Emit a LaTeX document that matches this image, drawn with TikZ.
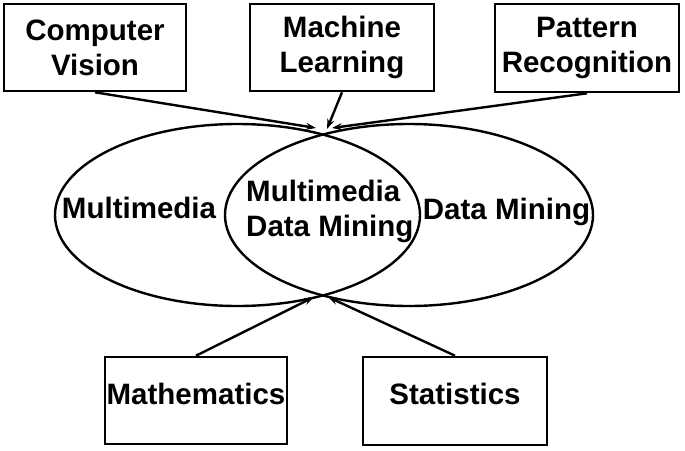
\documentclass[tikz,border=0pt]{standalone}
\usepackage{fontspec}
\setmainfont{Liberation Sans}
\usetikzlibrary{arrows.meta,shapes.geometric}
\tikzset{
  x=1pt,y=-1pt,
  every node/.style={font=\fontsize{29.5}{35}\selectfont\bfseries},
  box/.style={draw,line width=2.6pt,rectangle,inner sep=0pt,align=center},
  oval/.style={draw,line width=2.4pt,ellipse,inner sep=0pt},
  lbl/.style={inner sep=0pt},
  conn/.style={line width=2.4pt,-{Stealth[length=10pt,width=7pt]}}
}
\begin{document}
\begin{tikzpicture}
\useasboundingbox (0,0) rectangle (685,450);
% boxes
\node[box,minimum width=182pt,minimum height=87pt] (cv) at (95,47.5) {Computer\\Vision};
\node[box,minimum width=184pt,minimum height=87pt] (ml) at (342,47.5) {Machine\\Learning};
\node[box,minimum width=184pt,minimum height=88pt] (pr) at (587,48) {Pattern\\Recognition};
\node[box,minimum width=182pt,minimum height=87pt,text depth=14pt] (ma) at (196,400.5) {Mathematics};
\node[box,minimum width=184pt,minimum height=88pt,text depth=14pt] (st) at (455,401) {Statistics};
% ellipses
\node[oval,minimum width=365pt,minimum height=182pt] (mm) at (237.5,215) {};
\node[oval,minimum width=368pt,minimum height=182pt] (dm) at (409,215) {};
% labels
\node[lbl,anchor=base] (mmt) at (139,218) {Multimedia};
\node[lbl,anchor=base] (dmt) at (506.5,219) {Data Mining};
\node[lbl,anchor=west,align=left] (mdm) at (246,211) {Multimedia\\Data Mining};
% tips
\coordinate (tcv) at (316,128);
\coordinate (tml) at (327,129);
\coordinate (tpr) at (332,128);
\coordinate (tma) at (314,297);
\coordinate (tst) at (328,297);
% connectors
\draw[conn] (cv.south) -- (tcv);
\draw[conn] (ml.south) -- (tml);
\draw[conn] (pr.south) -- (tpr);
\draw[conn] (ma.north) -- (tma);
\draw[conn] (st.north) -- (tst);
\end{tikzpicture}
\end{document}
